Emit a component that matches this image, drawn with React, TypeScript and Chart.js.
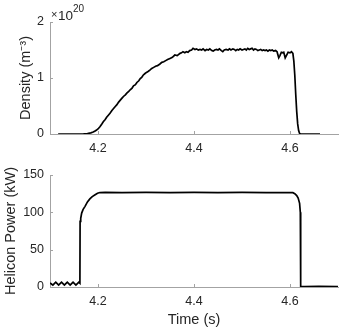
import React, { useEffect, useRef } from "react";
import { Chart, registerables } from "chart.js";

Chart.register(...registerables);

// ---------- data ----------
const xTicks = [4.2, 4.4, 4.6];
const densityTicks = [0, 1, 2];
const powerTicks = [0, 50, 100, 150];

const densityTime = [
  4.117, 4.13, 4.145, 4.16, 4.17, 4.178, 4.185, 4.19, 4.194, 4.197, 4.2, 4.204, 4.208, 4.211, 4.215,
  4.218, 4.222, 4.225, 4.229, 4.232, 4.236, 4.239, 4.243, 4.246, 4.25, 4.253, 4.257, 4.26, 4.264,
  4.267, 4.271, 4.274, 4.278, 4.281, 4.285, 4.288, 4.291, 4.294, 4.298, 4.301, 4.305, 4.308, 4.312,
  4.316, 4.32, 4.324, 4.329, 4.333, 4.337, 4.341, 4.345, 4.35, 4.355, 4.36, 4.365, 4.371, 4.374,
  4.377, 4.381, 4.384, 4.3875, 4.391, 4.395, 4.398, 4.402, 4.405, 4.409, 4.4125, 4.416, 4.419,
  4.423, 4.4265, 4.43, 4.433, 4.437, 4.44, 4.443, 4.447, 4.45, 4.453, 4.457, 4.46, 4.463, 4.467,
  4.471, 4.474, 4.477, 4.481, 4.484, 4.487, 4.49, 4.493, 4.496, 4.5, 4.503, 4.506, 4.509, 4.512,
  4.515, 4.518, 4.521, 4.524, 4.527, 4.53, 4.533, 4.536, 4.539, 4.542, 4.545, 4.548, 4.551, 4.554,
  4.557, 4.56, 4.563, 4.566, 4.57, 4.573, 4.5765, 4.579, 4.582, 4.585, 4.587, 4.59, 4.593, 4.596,
  4.6, 4.603, 4.606, 4.608, 4.61, 4.612, 4.614, 4.616, 4.618, 4.62, 4.622, 4.64, 4.6625,
];
const densityValue = [
  0, 0, 0, 0, 0.002, 0.008, 0.02, 0.035, 0.055, 0.07, 0.09, 0.13, 0.18, 0.22, 0.26,
  0.3, 0.34, 0.37, 0.42, 0.45, 0.49, 0.52, 0.57, 0.6, 0.64, 0.67, 0.7, 0.73, 0.76,
  0.79, 0.82, 0.86, 0.88, 0.92, 0.95, 0.99, 1.01, 1.05, 1.08, 1.1, 1.12, 1.14, 1.17,
  1.19, 1.21, 1.22, 1.25, 1.28, 1.29, 1.31, 1.33, 1.35, 1.37, 1.41, 1.4, 1.44, 1.45,
  1.47, 1.45, 1.47, 1.46, 1.49, 1.5, 1.53, 1.51, 1.52, 1.5, 1.51, 1.5, 1.52,
  1.49, 1.51, 1.5, 1.52, 1.49, 1.48, 1.5, 1.51, 1.5, 1.52, 1.49, 1.47, 1.5, 1.51,
  1.5, 1.52, 1.5, 1.52, 1.51, 1.49, 1.51, 1.5, 1.52, 1.5, 1.51, 1.52, 1.5, 1.53,
  1.51, 1.52, 1.53, 1.5, 1.52, 1.51, 1.49, 1.5, 1.51, 1.49, 1.5, 1.49, 1.5, 1.48,
  1.5, 1.49, 1.5, 1.48, 1.49, 1.47, 1.36, 1.4, 1.46, 1.45, 1.46, 1.36, 1.41, 1.46,
  1.45, 1.47, 1.44, 1.3, 1.05, 0.7, 0.4, 0.18, 0.06, 0.01, 0, 0, 0,
];

const powerTime = [
  4.1, 4.103, 4.106, 4.109, 4.112, 4.115, 4.118, 4.121, 4.124, 4.127, 4.13, 4.133, 4.136, 4.139,
  4.142, 4.145, 4.148, 4.151, 4.154, 4.157, 4.16, 4.1623, 4.1627, 4.164, 4.166, 4.169, 4.173,
  4.178, 4.183, 4.188, 4.194, 4.199, 4.204, 4.215, 4.25, 4.3, 4.35, 4.4, 4.45, 4.5, 4.55, 4.6,
  4.606, 4.61, 4.614, 4.617, 4.62, 4.6215, 4.622, 4.6225, 4.63, 4.66, 4.7,
];
const powerValue = [
  5.5, 4, 2.5, 4.5, 6.5, 4.5, 2.5, 4.5, 6.5, 4.5, 2.5, 4.5, 6.5, 4.5,
  2.5, 4.5, 6.5, 4.5, 2.5, 4.5, 6.5, 5, 88, 92, 99, 104, 108,
  114, 118, 121, 123.5, 125.5, 126.5, 126.8, 126.5, 126.7, 126.4, 126.6, 126.5, 126.7, 126.4, 126.5,
  126.3, 125, 122.5, 119, 112, 100, 50, 1, 0.5, 0.8, 0.5,
];

// ---------- style ----------
const FONT = "'Liberation Sans', Arial, Helvetica, sans-serif";
const AXIS_COLOR = "#a3a3a3";
const TEXT_COLOR = "#262626";

const zip = (xs: number[], ys: number[]) => xs.map((x, i) => ({ x, y: ys[i] }));

const inwardTicks = {
  id: "inwardTicks",
  afterDatasetsDraw(chart: any) {
    const { ctx, chartArea, scales } = chart;
    ctx.save();
    ctx.strokeStyle = AXIS_COLOR;
    ctx.lineWidth = 1;
    scales.x.ticks.forEach((t: any) => {
      const px = Math.round(scales.x.getPixelForValue(t.value)) + 0.5;
      ctx.beginPath();
      ctx.moveTo(px, chartArea.bottom);
      ctx.lineTo(px, chartArea.bottom - 3);
      ctx.stroke();
    });
    scales.y.ticks.forEach((t: any) => {
      const py = Math.round(scales.y.getPixelForValue(t.value)) + 0.5;
      ctx.beginPath();
      ctx.moveTo(chartArea.left, py);
      ctx.lineTo(chartArea.left + 3, py);
      ctx.stroke();
    });
    ctx.restore();
  },
};

const exponentLabel = {
  id: "exponentLabel",
  afterDraw(chart: any) {
    const { ctx, chartArea } = chart;
    ctx.save();
    ctx.fillStyle = TEXT_COLOR;
    ctx.textBaseline = "alphabetic";
    ctx.textAlign = "left";
    const x0 = chartArea.left + 1;
    ctx.font = `11px ${FONT}`;
    ctx.fillText("\u00d7", x0, 17.5);
    let x = x0 + ctx.measureText("\u00d7").width + 0.5;
    ctx.font = `13.5px ${FONT}`;
    ctx.fillText("10", x, 19.5);
    x += ctx.measureText("10").width;
    ctx.font = `10px ${FONT}`;
    ctx.fillText("20", x, 12);
    ctx.restore();
  },
};

function makeOptions(opts: {
  yMin: number;
  yMax: number;
  yTicks: number[];
  yTitle: string;
  yTitlePad: number;
  xHeight: number;
  xTitle?: string;
  padTop: number;
}) {
  return {
    responsive: false,
    animation: false as const,
    layout: { padding: { left: 0, right: 4, top: opts.padTop, bottom: 0 } },
    plugins: { legend: { display: false }, tooltip: { enabled: false } },
    elements: { point: { radius: 0 }, line: { tension: 0 } },
    scales: {
      x: {
        type: "linear" as const,
        min: 4.1,
        max: 4.7,
        grid: { display: false, drawTicks: false },
        border: { display: true, color: AXIS_COLOR, width: 1 },
        afterBuildTicks: (s: any) => {
          s.ticks = xTicks.map((v) => ({ value: v }));
        },
        afterFit: (s: any) => {
          s.height = opts.xHeight;
        },
        ticks: {
          color: TEXT_COLOR,
          font: { family: FONT, size: 12.5 },
          padding: 7,
          maxRotation: 0,
          autoSkip: false,
          callback: (v: any) => Number(v).toFixed(1),
        },
        title: opts.xTitle
          ? {
              display: true,
              text: opts.xTitle,
              color: TEXT_COLOR,
              font: { family: FONT, size: 14.5 },
              padding: { top: 0, bottom: 4 },
            }
          : { display: false },
      },
      y: {
        type: "linear" as const,
        min: opts.yMin,
        max: opts.yMax,
        grid: { display: false, drawTicks: false },
        border: { display: true, color: AXIS_COLOR, width: 1 },
        afterBuildTicks: (s: any) => {
          s.ticks = opts.yTicks.map((v) => ({ value: v }));
        },
        afterFit: (s: any) => {
          s.width = 50;
        },
        ticks: {
          color: TEXT_COLOR,
          font: { family: FONT, size: 12.5 },
          padding: 6,
          autoSkip: false,
          callback: (v: any) => String(v),
        },
        title: {
          display: true,
          text: opts.yTitle,
          color: TEXT_COLOR,
          font: { family: FONT, size: 14.5 },
          padding: { top: opts.yTitlePad, bottom: 0 },
        },
      },
    },
  };
}

export default function App() {
  const topRef = useRef<HTMLCanvasElement | null>(null);
  const botRef = useRef<HTMLCanvasElement | null>(null);

  useEffect(() => {
    const top = new Chart(topRef.current as HTMLCanvasElement, {
      type: "line",
      data: {
        datasets: [
          {
            data: zip(densityTime, densityValue),
            borderColor: "#000000",
            borderWidth: 1.7,
            pointRadius: 0,
            fill: false,
          },
        ],
      },
      options: makeOptions({
        yMin: 0,
        yMax: 2,
        yTicks: densityTicks,
        yTitle: "Density (m\u207B\u00B3)",
        yTitlePad: 17,
        xHeight: 26,
        padTop: 22,
      }) as any,
      plugins: [inwardTicks, exponentLabel],
    });
    const bot = new Chart(botRef.current as HTMLCanvasElement, {
      type: "line",
      data: {
        datasets: [
          {
            data: zip(powerTime, powerValue),
            borderColor: "#000000",
            borderWidth: 1.7,
            pointRadius: 0,
            fill: false,
          },
        ],
      },
      options: makeOptions({
        yMin: 0,
        yMax: 150,
        yTicks: powerTicks,
        yTitle: "Helicon Power (kW)",
        yTitlePad: 2.5,
        xHeight: 46,
        xTitle: "Time (s)",
        padTop: 15,
      }) as any,
      plugins: [inwardTicks],
    });
    return () => {
      top.destroy();
      bot.destroy();
    };
  }, []);

  return (
    <div style={{ position: "fixed", left: 0, top: 0, width: 342, height: 333, background: "#ffffff" }}>
      <canvas
        ref={topRef}
        width={342}
        height={160}
        style={{ position: "absolute", left: 0, top: 0, width: 342, height: 160 }}
      />
      <canvas
        ref={botRef}
        width={342}
        height={173}
        style={{ position: "absolute", left: 0, top: 160, width: 342, height: 173 }}
      />
    </div>
  );
}
